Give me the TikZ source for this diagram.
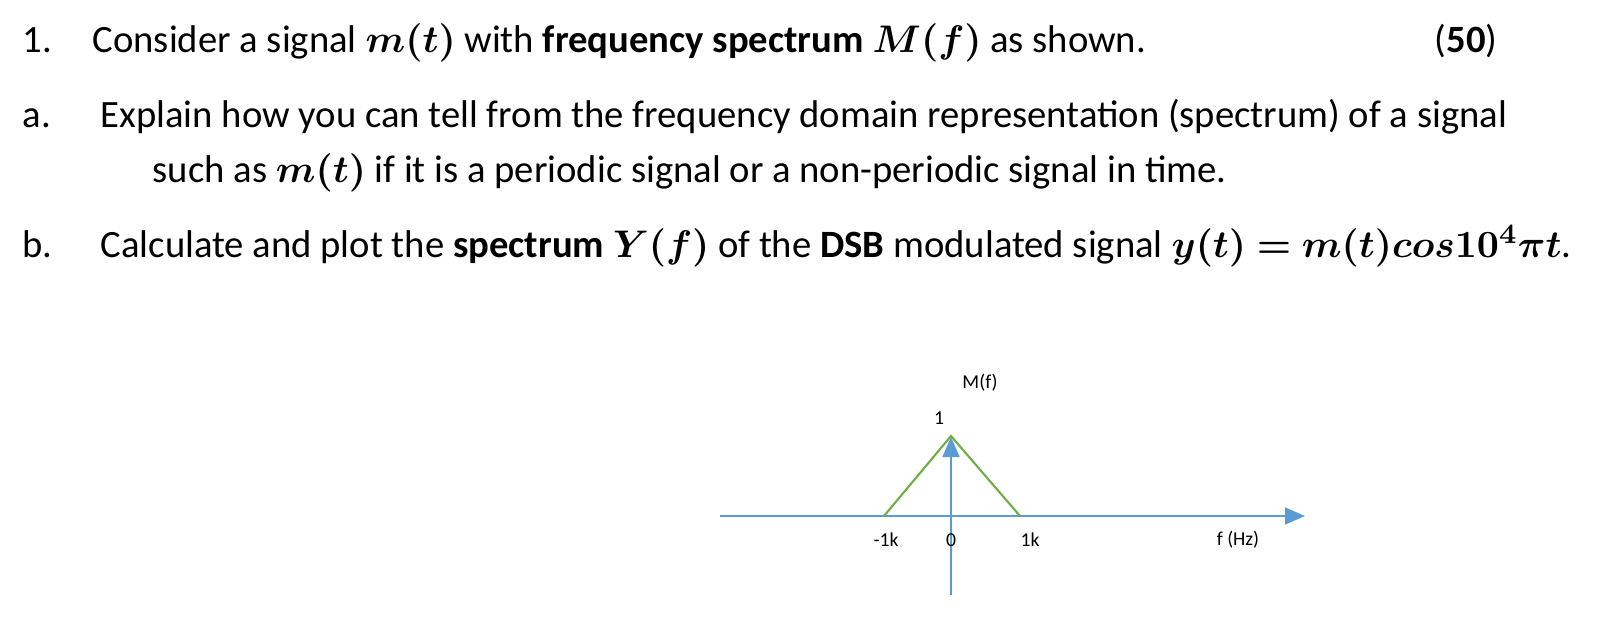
\documentclass[tikz,border=0pt]{standalone}
\usepackage{amsmath,bm}
\usepackage{fontspec}
\setmainfont{Carlito}
\usetikzlibrary{arrows.meta}
\definecolor{axblue}{RGB}{91,155,213}
\definecolor{trgreen}{RGB}{112,173,71}
\tikzset{
  txt/.style={anchor=base west,inner sep=0pt,font=\fontsize{11}{13}\selectfont,scale=2,transform shape},
  lbl/.style={inner sep=0pt,font=\fontsize{11.2}{13}\selectfont},
  axis/.style={draw=axblue,line width=0.9pt,-{Triangle[length=0.4cm,width=0.34cm]}},
  tri/.style={draw=trgreen,line width=1.2pt}
}
\newcommand{\bmm}[1]{\ensuremath{\bm{#1}}}
\begin{document}
\begin{tikzpicture}[x=0.02cm,y=-0.02cm]
\node[txt] (n1) at (22,52) {1.};
\node[txt] (l1) at (92,52) {Consider a signal \bmm{m(t)} with \textbf{frequency spectrum} \bmm{M(f)} as shown.};
\node[txt,anchor=base east] (pts) at (1498,52) {(\textbf{50})};
\node[txt] (na) at (22,127) {a.};
\node[txt] (la) at (100,127) {Explain how you can tell from the frequency domain representation (spectrum) of a signal};
\node[txt] (la2) at (152,182) {such as \bmm{m(t)} if it is a periodic signal or a non-periodic signal in time.};
\node[txt] (nb) at (22,257) {b.};
\node[txt] (lb) at (100,257) {Calculate and plot the \textbf{spectrum} \bmm{Y(f)} of the \textbf{DSB} modulated signal \bmm{y(t)=m(t)cos10^4\pi t}.};
% plot
\coordinate (hs) at (720,516);
\coordinate (he) at (1305,516);
\coordinate (vs) at (951,595);
\coordinate (ve) at (951,437);
\draw[axis] (hs) -- (he);
\draw[axis] (vs) -- (ve);
\coordinate (a) at (884,516);
\coordinate (p) at (951,436);
\coordinate (b) at (1020,516);
\draw[tri] (a) -- (p) -- (b);
\node[lbl] (m1) at (886,540) {-1k};
\node[lbl] (z) at (951,540) {0};
\node[lbl] (k1) at (1030,540) {1k};
\node[lbl] (fh) at (1238,540) {f (Hz)};
\node[lbl] (one) at (939,418) {1};
\node[lbl] (mf) at (980,383) {M(f)};
\pgfresetboundingbox
\useasboundingbox (0,0) rectangle (1613,637);
\end{tikzpicture}
\end{document}
